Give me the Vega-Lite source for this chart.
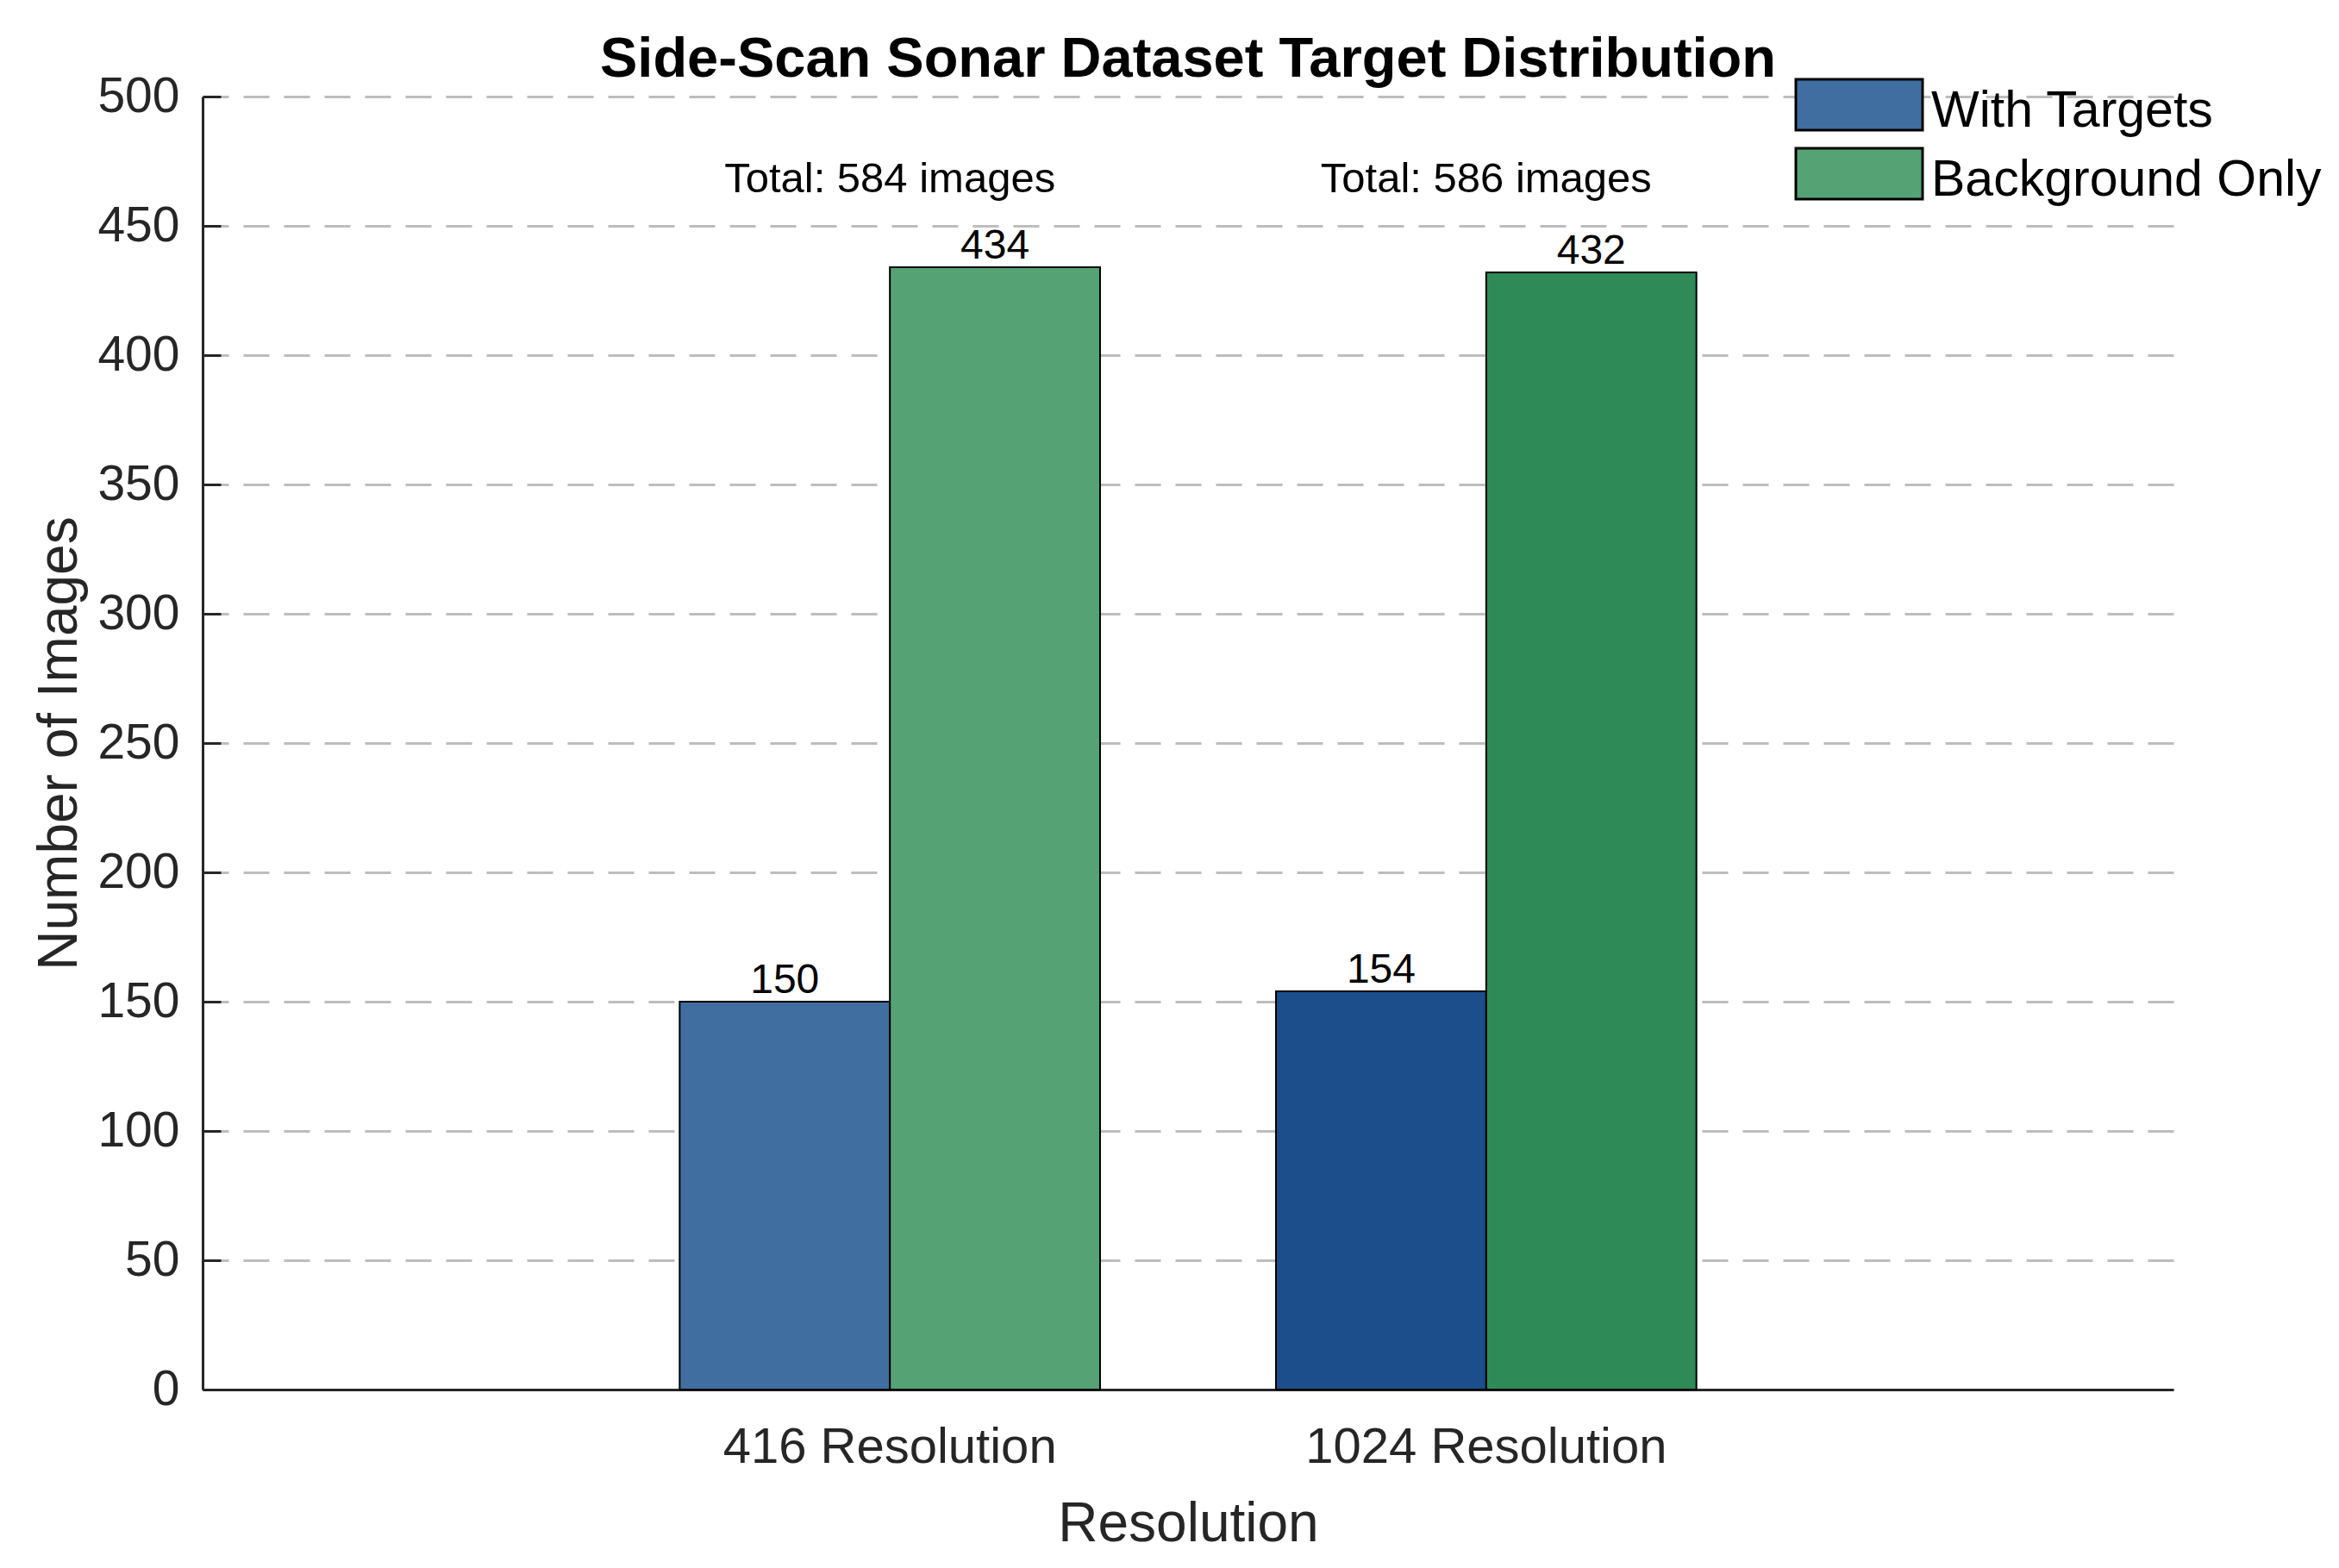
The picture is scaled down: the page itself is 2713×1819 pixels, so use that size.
{
  "$schema": "https://vega.github.io/schema/vega-lite/v6.json",
  "description": "Side-Scan Sonar Dataset Target Distribution",
  "width": 2286,
  "height": 1500,
  "autosize": "none",
  "padding": {"left": 235, "top": 112, "right": 192, "bottom": 207},
  "background": "white",
  "config": {
    "font": "Liberation Sans",
    "view": {"stroke": null},
    "axis": {
      "labelFont": "Liberation Sans",
      "titleFont": "Liberation Sans",
      "labelColor": "#262626",
      "titleColor": "#262626",
      "domainColor": "#262626",
      "domainWidth": 3,
      "tickColor": "#262626"
    },
    "legend": {
      "labelFont": "Liberation Sans"
    }
  },
  "title": {
    "text": "Side-Scan Sonar Dataset Target Distribution",
    "fontSize": 65,
    "fontWeight": "bold",
    "font": "Liberation Sans",
    "color": "black",
    "anchor": "middle",
    "frame": "group",
    "baseline": "alphabetic",
    "offset": 0,
    "dy": 71
  },
  "datasets": {
    "counts": [
      {"resolution": "416 Resolution", "type": "With Targets", "bar": "416 With Targets", "count": 150},
      {"resolution": "416 Resolution", "type": "Background Only", "bar": "416 Background Only", "count": 434},
      {"resolution": "1024 Resolution", "type": "With Targets", "bar": "1024 With Targets", "count": 154},
      {"resolution": "1024 Resolution", "type": "Background Only", "bar": "1024 Background Only", "count": 432}
    ],
    "totals": [
      {"resolution": "416 Resolution", "label": "Total: 584 images"},
      {"resolution": "1024 Resolution", "label": "Total: 586 images"}
    ]
  },
  "layer": [
    {
      "data": {"name": "counts"},
      "mark": {"type": "bar", "stroke": "black", "strokeWidth": 2},
      "encoding": {
        "x": {
          "field": "resolution",
          "type": "nominal",
          "sort": ["416 Resolution", "1024 Resolution"],
          "scale": {"paddingInner": 0.295, "paddingOuter": 0.8},
          "axis": {
            "title": "Resolution",
            "titleFontSize": 64,
            "titleFontWeight": "normal",
            "titleX": 1143,
            "titleY": 175,
            "titleBaseline": "alphabetic",
            "labelFontSize": 58,
            "labelPadding": 38,
            "labelAngle": 0,
            "labelLimit": 0,
            "ticks": false
          }
        },
        "xOffset": {
          "field": "type",
          "type": "nominal",
          "sort": ["With Targets", "Background Only"],
          "scale": {"paddingInner": 0, "paddingOuter": 0}
        },
        "y": {
          "field": "count",
          "type": "quantitative",
          "scale": {"domain": [0, 500], "nice": false},
          "axis": {
            "title": "Number of Images",
            "titleFontSize": 64,
            "titleFontWeight": "normal",
            "titleX": -147,
            "titleY": 750,
            "titleAngle": -90,
            "titleAlign": "center",
            "titleBaseline": "alphabetic",
            "values": [0, 50, 100, 150, 200, 250, 300, 350, 400, 450, 500],
            "labelFontSize": 57,
            "labelPadding": 48,
            "tickSize": -21,
            "tickWidth": 3,
            "grid": true,
            "gridColor": "#bdbdbd",
            "gridWidth": 3,
            "gridDash": [30, 17]
          }
        },
        "fill": {
          "field": "bar",
          "type": "nominal",
          "scale": {
            "domain": ["416 With Targets", "416 Background Only", "1024 With Targets", "1024 Background Only"],
            "range": ["#416ea0", "#55a275", "#1c4e8b", "#2e8a57"]
          },
          "legend": {
            "title": null,
            "values": ["416 With Targets", "416 Background Only"],
            "labelExpr": "replace(datum.label, '416 ', '')",
            "orient": "none",
            "legendX": 1883,
            "legendY": -29,
            "padding": 0,
            "labelFontSize": 59,
            "labelColor": "black",
            "labelOffset": 45,
            "labelLimit": 0,
            "rowPadding": 4,
            "symbolType": "M-2,-0.8H2V0.8H-2Z",
            "symbolSize": 5402,
            "symbolStrokeColor": "black",
            "symbolStrokeWidth": 3,
            "symbolOpacity": 1,
            "encode": {
              "labels": {"update": {"dy": {"value": 7}}}
            }
          }
        }
      }
    },
    {
      "data": {"name": "counts"},
      "mark": {"type": "text", "fontSize": 48, "color": "black", "baseline": "alphabetic", "dy": -10},
      "encoding": {
        "x": {"field": "resolution", "type": "nominal", "sort": ["416 Resolution", "1024 Resolution"]},
        "xOffset": {"field": "type", "type": "nominal", "sort": ["With Targets", "Background Only"]},
        "y": {"field": "count", "type": "quantitative"},
        "text": {"field": "count", "type": "quantitative"}
      }
    },
    {
      "data": {"name": "totals"},
      "mark": {"type": "text", "fontSize": 49, "color": "black", "baseline": "alphabetic"},
      "encoding": {
        "x": {"field": "resolution", "type": "nominal", "sort": ["416 Resolution", "1024 Resolution"]},
        "y": {"datum": 463, "type": "quantitative"},
        "text": {"field": "label", "type": "nominal"}
      }
    }
  ]
}
